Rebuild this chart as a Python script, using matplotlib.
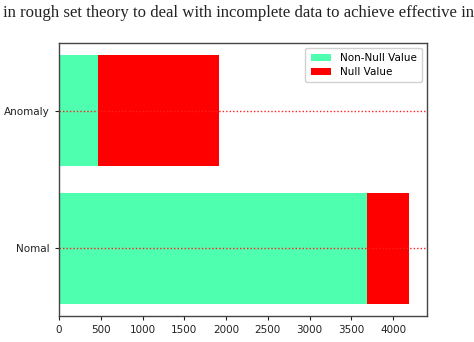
import matplotlib.pyplot as plt

categories = ["Nomal", "Anomaly"]
non_null = [3690, 463]
null = [505, 1457]

header = "in rough set theory to deal with incomplete data to achieve effective in"

fig = plt.figure(figsize=(4.74, 3.42), dpi=100)
fig.text(0.006, 0.962, header, family="Liberation Serif", fontsize=12.1,
         va="center", ha="left", color="#222222")

ax = fig.add_axes([59 / 474, 1 - 316 / 342, 368 / 474, 273 / 342])
ax.barh(categories, non_null, color="#4effb0", label="Non-Null Value")
ax.barh(categories, null, left=non_null, color="#ff0000", label="Null Value")
ax.grid(axis="y", color="#ff2020", linestyle=(0, (1, 1.5)), linewidth=1.0)

for s in ax.spines.values():
    s.set_color("#444444")
    s.set_linewidth(1.0)
ax.tick_params(labelsize=7.5, length=3, width=0.8, colors="#222222")
ax.set_xticks([0, 500, 1000, 1500, 2000, 2500, 3000, 3500, 4000])

ax.legend(loc="upper right", fontsize=7.5, handlelength=2.0, borderpad=0.5,
          labelspacing=0.35, framealpha=0.9)

fig.savefig("out.png", dpi=100)
